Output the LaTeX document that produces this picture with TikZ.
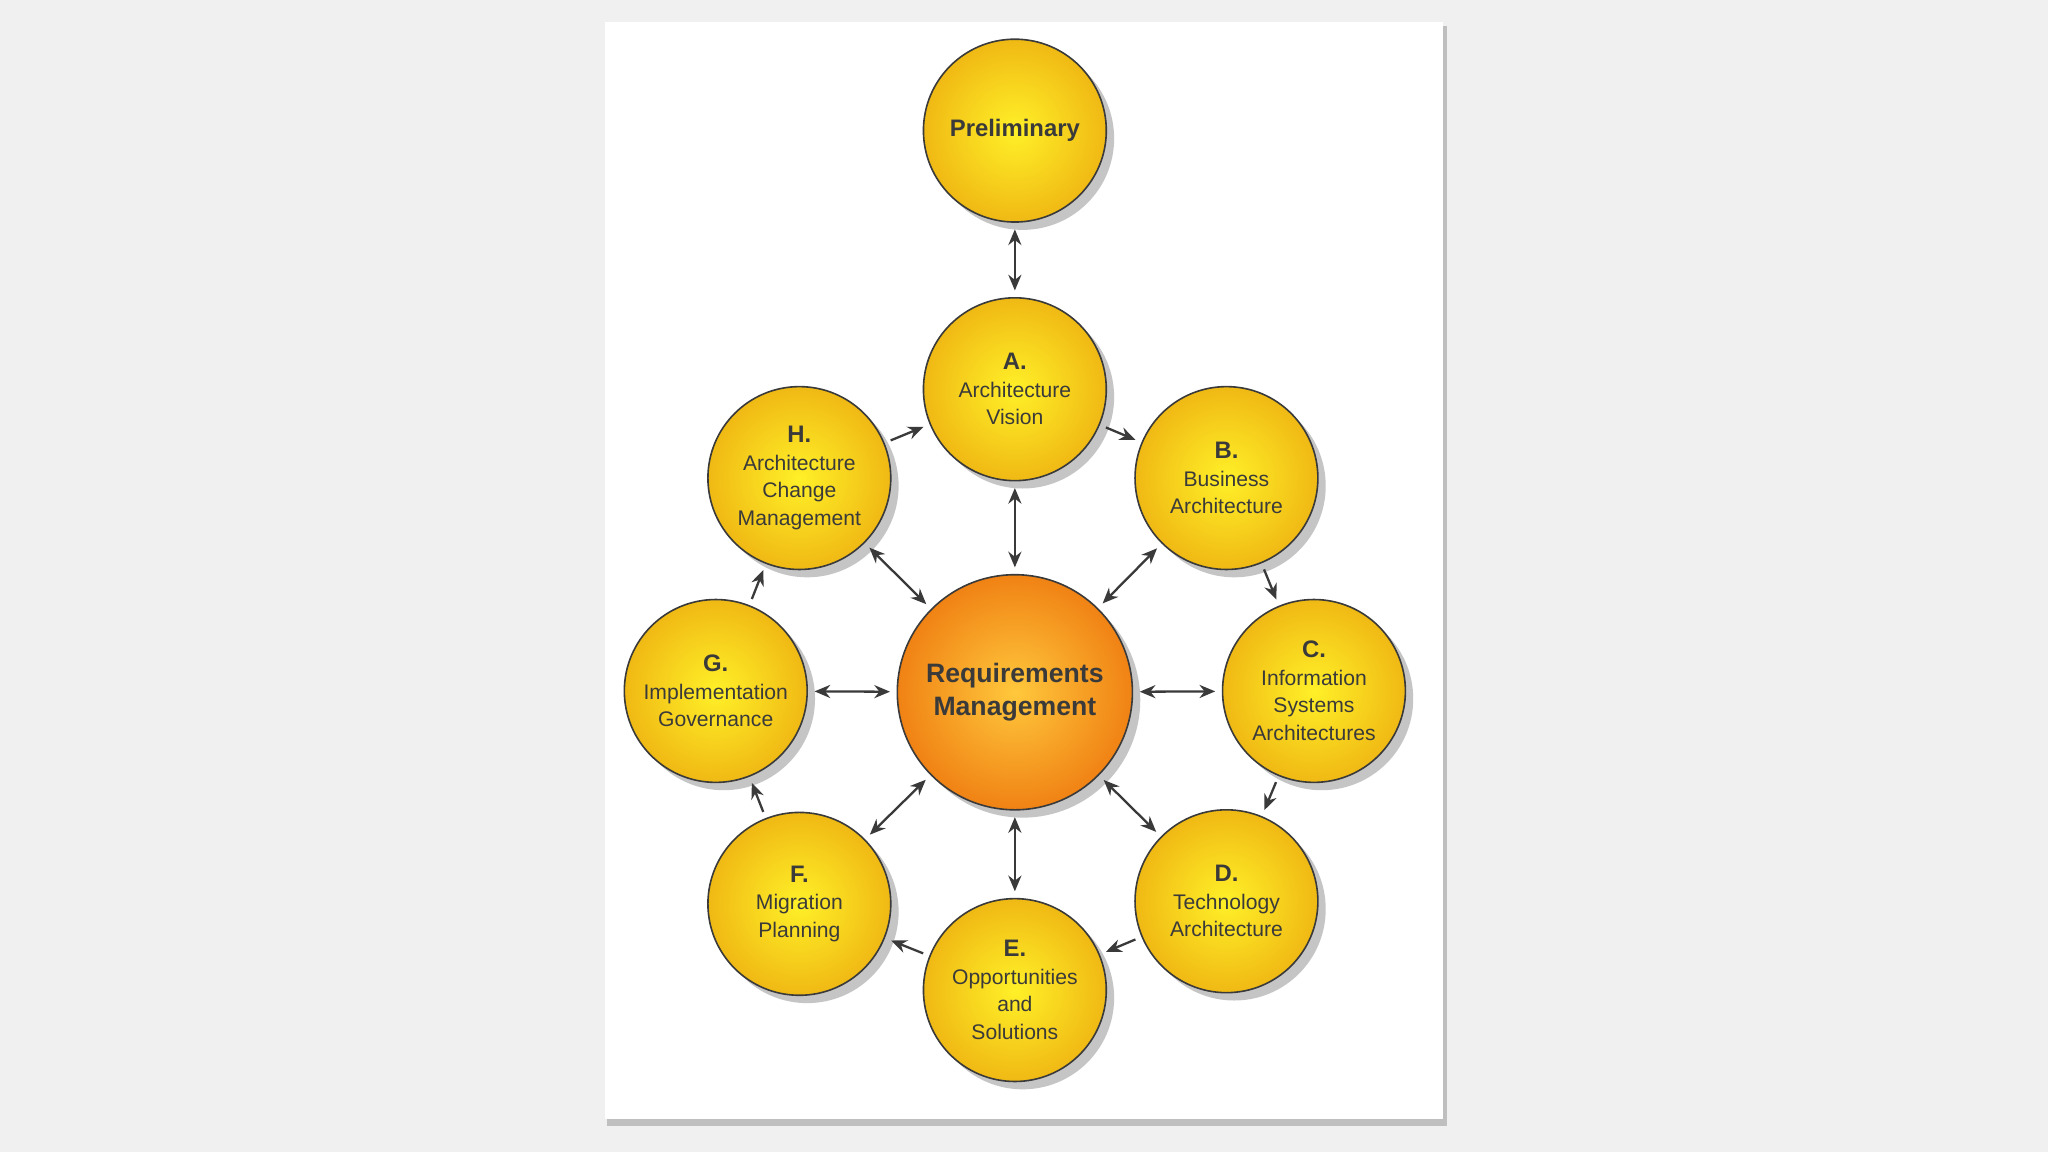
\documentclass[tikz,border=0pt]{standalone}
\usepackage{fontspec}
\setmainfont{Liberation Sans}
\usetikzlibrary{shadows,arrows.meta}
\definecolor{bg}{HTML}{F0F0F0}
\definecolor{ln}{HTML}{3A3A3A}
\tikzset{
 phase/.style={circle,minimum size=1.4cm,inner sep=0pt,draw=ln,line width=0.35pt,
   inner color={rgb,255:red,255;green,240;blue,40},outer color={rgb,255:red,240;green,185;blue,20},
   drop shadow={shadow xshift=0.6mm,shadow yshift=-0.6mm,fill=black!45,opacity=0.5},
   align=center,text=ln,font=\fontsize{4.6}{6}\selectfont},
 core/.style={phase,minimum size=1.8cm,inner color={rgb,255:red,255;green,200;blue,60},outer color={rgb,255:red,240;green,130;blue,20},font=\bfseries\fontsize{5.8}{7.2}\selectfont},
 conn/.style={draw=ln,line width=0.5pt,-{Stealth[length=1.2mm,width=1mm]},shorten >=0.5mm,shorten <=0.5mm},
 dconn/.style={conn,{Stealth[length=1.2mm,width=1mm]}-{Stealth[length=1.2mm,width=1mm]}}
}
\newcommand{\ttl}[1]{{\bfseries\fontsize{5.2}{6}\selectfont #1}}
\begin{document}
\begin{tikzpicture}
\useasboundingbox (0,0) rectangle (15.68,8.82);
\fill[bg] (0,0) rectangle (15.68,8.82);
\fill[black!25] (4.65,0.2) rectangle (11.08,8.62);
\fill[white] (4.63,0.25) rectangle (11.05,8.65);
\node[phase,font=\bfseries\fontsize{5.2}{6}\selectfont] (P) at (7.77,7.82) {Preliminary};
\node[phase] (A) at (7.77,5.84) {\ttl{A.}\\Architecture\\Vision};
\node[phase] (B) at (9.39,5.16) {\ttl{B.}\\Business\\Architecture};
\node[phase] (C) at (10.06,3.53) {\ttl{C.}\\Information\\Systems\\Architectures};
\node[phase] (D) at (9.39,1.92) {\ttl{D.}\\Technology\\Architecture};
\node[phase] (E) at (7.77,1.24) {\ttl{E.}\\Opportunities\\and\\Solutions};
\node[phase] (F) at (6.12,1.90) {\ttl{F.}\\Migration\\Planning};
\node[phase] (G) at (5.48,3.53) {\ttl{G.}\\Implementation\\Governance};
\node[phase] (H) at (6.12,5.16) {\ttl{H.}\\Architecture\\Change\\Management};
\node[core] (R) at (7.77,3.52) {Requirements\\Management};
\draw[dconn] (P) -- (A);
\draw[conn] (A) -- (B);
\draw[conn] (B) -- (C);
\draw[conn] (C) -- (D);
\draw[conn] (D) -- (E);
\draw[conn] (E) -- (F);
\draw[conn] (F) -- (G);
\draw[conn] (G) -- (H);
\draw[conn] (H) -- (A);
\foreach \n in {A,B,C,D,E,F,G,H} \draw[dconn] (R) -- (\n);
\end{tikzpicture}
\end{document}
